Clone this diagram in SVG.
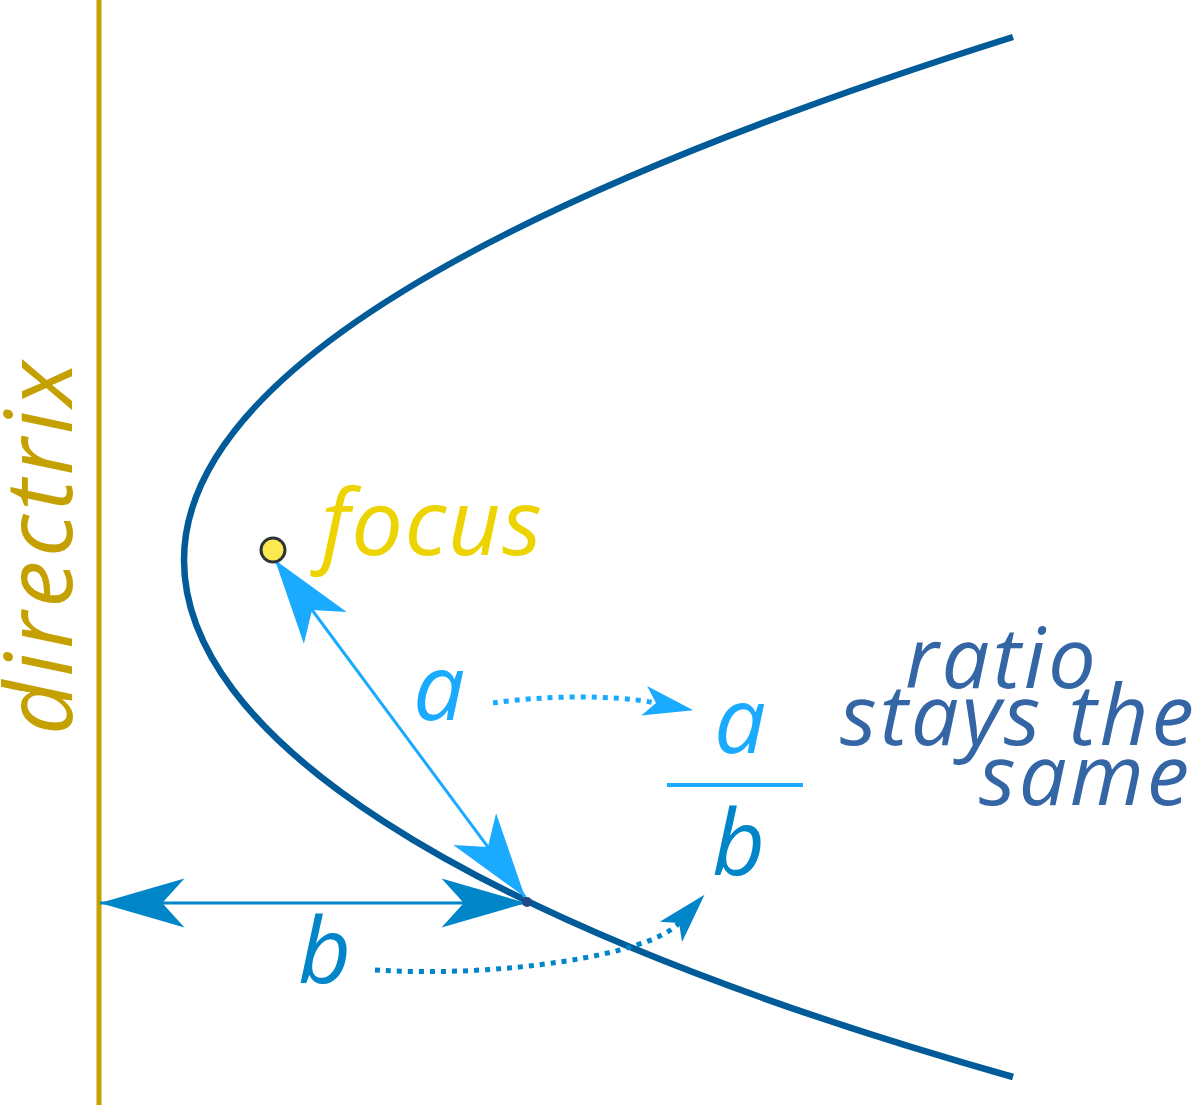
<svg xmlns="http://www.w3.org/2000/svg" width="1200" height="1105" viewBox="0 0 1200 1105">
<style>
text{font-family:"Open Sans","Noto Sans","DejaVu Sans",sans-serif;font-style:italic;}
.big{font-size:92px;}
.ratio{font-size:85px;fill:#3465a4;letter-spacing:3px;}
.dotA{fill:none;stroke:#1aaaff;stroke-width:5;stroke-dasharray:5 6;}
.dotB{fill:none;stroke:#0085c8;stroke-width:5;stroke-dasharray:5 6;}
</style>
<defs>
<marker id="hA" markerUnits="userSpaceOnUse" orient="auto-start-reverse" markerWidth="100" markerHeight="100" refX="0" refY="0" viewBox="-80 -30 90 60" overflow="visible">
<path d="M0,0 L-76,-24 L-56,0 L-76,24 Z" fill="#1aaaff"/>
</marker>
<marker id="hB" markerUnits="userSpaceOnUse" orient="auto-start-reverse" markerWidth="100" markerHeight="100" refX="0" refY="0" viewBox="-80 -30 90 60" overflow="visible">
<path d="M0,0 L-76,-22 L-56,0 L-76,22 Z" fill="#0085c8"/>
</marker>
<marker id="sA" markerUnits="userSpaceOnUse" orient="auto" markerWidth="60" markerHeight="40" refX="0" refY="0" viewBox="-20 -20 60 40" overflow="visible">
<path d="M38,0 L-12,-15 L0,0 L-12,15 Z" fill="#1aaaff"/>
</marker>
<marker id="sB" markerUnits="userSpaceOnUse" orient="auto" markerWidth="60" markerHeight="40" refX="0" refY="0" viewBox="-20 -20 60 40" overflow="visible">
<path d="M38,0 L-12,-15 L0,0 L-12,15 Z" fill="#0085c8"/>
</marker>
</defs>
<g id="directrix">
<line x1="99" y1="0" x2="99" y2="1105" stroke="#c4a000" stroke-width="5"/>
<text font-size="94" letter-spacing="4" fill="#c4a000" transform="translate(72,735) rotate(-90)">directrix</text>
</g>
<g id="parabola">
<path d="M1013,37 Q184,298.5 184,560 C184,730 440,915 1013,1077" fill="none" stroke="#005b98" stroke-width="6.5"/>
</g>
<g id="connectors">
<line x1="275" y1="560" x2="525" y2="897" stroke="#1aaaff" stroke-width="3" marker-start="url(#hA)" marker-end="url(#hA)"/>
<line x1="100" y1="903" x2="526" y2="903" stroke="#0085c8" stroke-width="3" marker-start="url(#hB)" marker-end="url(#hB)"/>
<path class="dotA" d="M493,703 C540,696 610,694 656,703" marker-end="url(#sA)"/>
<path class="dotB" d="M375,970 C500,978 650,955 679,923" marker-end="url(#sB)"/>
</g>
<g id="focus">
<circle cx="273" cy="550" r="12" fill="#fce94f" stroke="#2e3436" stroke-width="3"/>
<text class="big" x="321" y="555" letter-spacing="1.5" fill="#edd400">focus</text>
</g>
<g id="point">
<circle cx="527" cy="902" r="5" fill="#204a87"/>
</g>
<g id="labelA"><text class="big" x="413" y="720" fill="#1aaaff">a</text></g>
<g id="labelB"><text class="big" x="298" y="983" fill="#0085c8">b</text></g>
<g id="fraction">
<text class="big" x="714" y="753" fill="#1aaaff">a</text>
<line x1="667" y1="785" x2="803" y2="785" stroke="#1aaaff" stroke-width="4"/>
<text class="big" x="712" y="875" fill="#0085c8">b</text>
</g>
<g id="ratio">
<text class="ratio" x="905" y="688">ratio</text>
<text class="ratio" x="840" y="745" letter-spacing="4">stays the</text>
<text class="ratio" x="979" y="805" letter-spacing="2">same</text>
</g>
</svg>
